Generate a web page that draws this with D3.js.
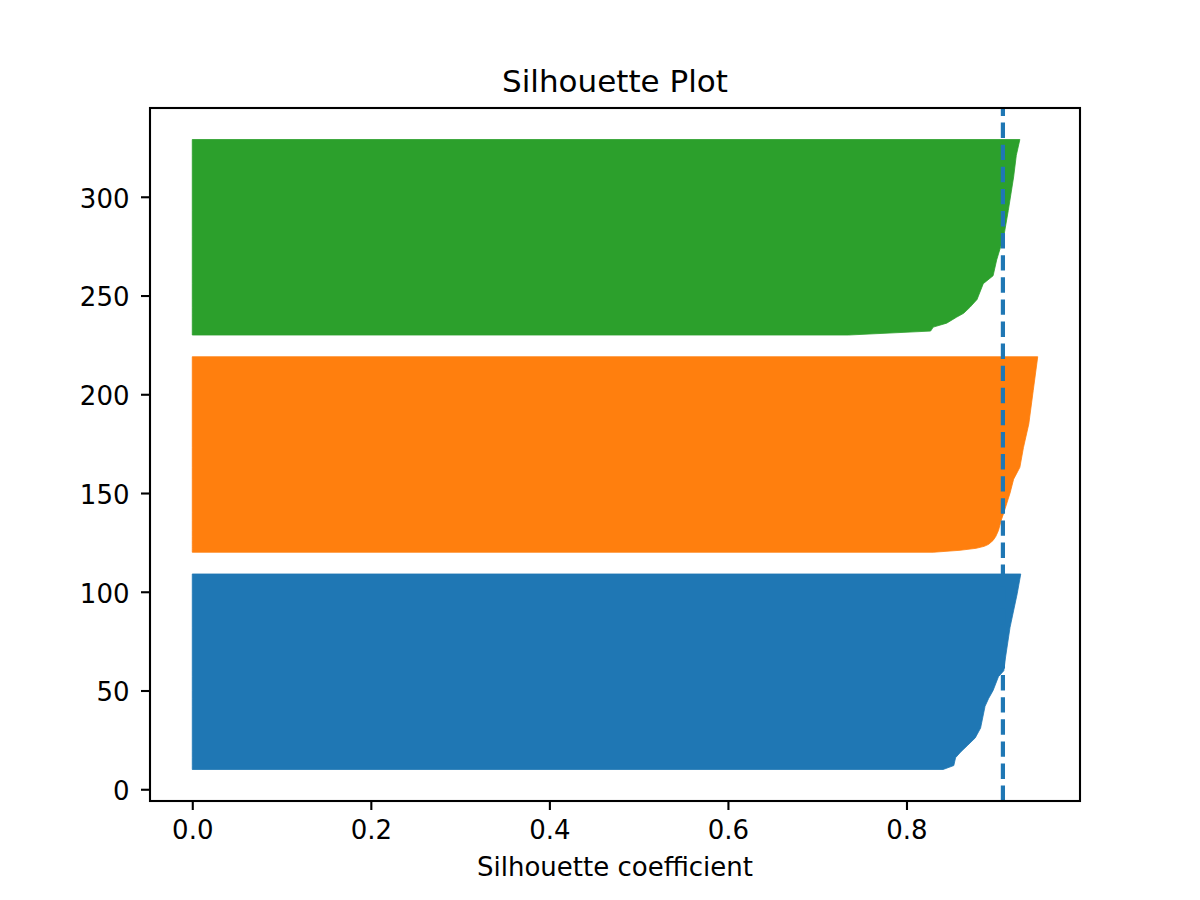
<!DOCTYPE html>
<html>
<head>
<meta charset="utf-8">
<script src="https://cdn.jsdelivr.net/npm/d3@7"></script>
<style>
    body { margin: 0; background: #fff; }
    text { font-family: "DejaVu Sans", sans-serif; fill: #000; }
</style>
</head>
<body>
<svg id="silhouette"></svg>
<script>
// Sorted silhouette values per cluster (sample row -> coefficient)
const clusterColors = ["#1f77b4", "#ff7f0e", "#2ca02c"];

const cluster0Rows = [10, 12, 16, 19, 22, 26, 31, 42, 46, 50, 57, 60, 67, 82, 99, 109];
const cluster0Vals = [0.841, 0.853, 0.855, 0.861, 0.868, 0.877, 0.883, 0.888, 0.892, 0.897, 0.903, 0.909, 0.911, 0.916, 0.924, 0.928];

const cluster1Rows = [120, 121, 122, 123, 124, 126, 128, 131, 136, 140, 150, 157, 163, 173, 185, 202, 219];
const cluster1Vals = [0.830, 0.860, 0.878, 0.887, 0.892, 0.897, 0.900, 0.903, 0.906, 0.909, 0.916, 0.920, 0.927, 0.931, 0.937, 0.942, 0.947];

const cluster2Rows = [230, 232, 234, 236, 239, 241, 244, 248, 256, 260, 268, 280, 293, 310, 321, 329];
const cluster2Vals = [0.735, 0.827, 0.830, 0.845, 0.856, 0.864, 0.871, 0.879, 0.886, 0.897, 0.901, 0.909, 0.914, 0.920, 0.923, 0.927];

const silhouetteAvg = 0.908;

const xTicks = [0.0, 0.2, 0.4, 0.6, 0.8];
const yTicks = [0, 50, 100, 150, 200, 250, 300];

// Figure + axes box (matplotlib default subplot params)
const W = 1200, H = 900;
const margin = { top: 108, right: 120, bottom: 99, left: 150 },
    width = W - margin.left - margin.right,
    height = H - margin.top - margin.bottom;

const clusters = [
    { rows: cluster0Rows, vals: cluster0Vals },
    { rows: cluster1Rows, vals: cluster1Vals },
    { rows: cluster2Rows, vals: cluster2Vals }
].map((c, i) => ({
    color: clusterColors[i],
    points: c.rows.map((r, j) => ({ row: r, s: c.vals[j] }))
}));

const svg = d3.select("#silhouette")
    .attr("width", W)
    .attr("height", H);

const g = svg.append("g")
    .attr("transform", `translate(${margin.left},${margin.top})`);

// Scales with 5% margins like matplotlib autoscale
const allPts = clusters.flatMap(c => c.points);
const xMax = d3.max(allPts, d => d.s), xMin = 0;
const xPad = (xMax - xMin) * 0.05;
const x = d3.scaleLinear()
    .domain([xMin - xPad, xMax + xPad])
    .range([0, width]);

const yMin = d3.min(allPts, d => d.row), yMax = d3.max(allPts, d => d.row);
const yPad = (yMax - yMin) * 0.05;
const y = d3.scaleLinear()
    .domain([yMin - yPad, yMax + yPad])
    .range([height, 0]);

// Filled silhouette shapes
const area = d3.area()
    .y(d => y(d.row))
    .x0(x(0))
    .x1(d => x(d.s))
    .curve(d3.curveLinear);

g.selectAll(".cluster")
    .data(clusters)
    .enter()
    .append("path")
    .attr("class", "cluster")
    .attr("d", d => area(d.points))
    .attr("fill", d => d.color)
    .attr("stroke", d => d.color)
    .attr("stroke-width", 0.8);

// Average silhouette line
g.append("line")
    .attr("x1", x(silhouetteAvg))
    .attr("x2", x(silhouetteAvg))
    .attr("y1", height)
    .attr("y2", 0)
    .attr("stroke", "#1f77b4")
    .attr("stroke-width", 4.2)
    .attr("stroke-dasharray", "15.4,6.7");

// Axes
const xAxis = g.append("g")
    .attr("transform", `translate(0,${height})`)
    .call(d3.axisBottom(x).tickValues(xTicks).tickFormat(d3.format(".1f")).tickSize(9).tickPadding(11));

const yAxis = g.append("g")
    .call(d3.axisLeft(y).tickValues(yTicks).tickSize(9).tickPadding(11.5));

[xAxis, yAxis].forEach(a => {
    a.select(".domain").remove();
    a.selectAll(".tick line").attr("stroke", "#000").attr("stroke-width", 2.1);
    a.selectAll(".tick text")
        .style("font-size", "26px")
        .style("font-family", "'DejaVu Sans', sans-serif");
});
yAxis.selectAll(".tick text").attr("dy", "0.4em");

// Frame
g.append("rect")
    .attr("width", width)
    .attr("height", height)
    .attr("fill", "none")
    .attr("stroke", "#000")
    .attr("stroke-width", 2.1);

// Labels
svg.append("text")
    .attr("x", margin.left + width / 2)
    .attr("y", 876)
    .attr("text-anchor", "middle")
    .style("font-size", "26px")
    .text("Silhouette coefficient");

svg.append("text")
    .attr("x", margin.left + width / 2)
    .attr("y", 92)
    .attr("text-anchor", "middle")
    .style("font-size", "31px")
    .text("Silhouette Plot");
</script>
</body>
</html>
